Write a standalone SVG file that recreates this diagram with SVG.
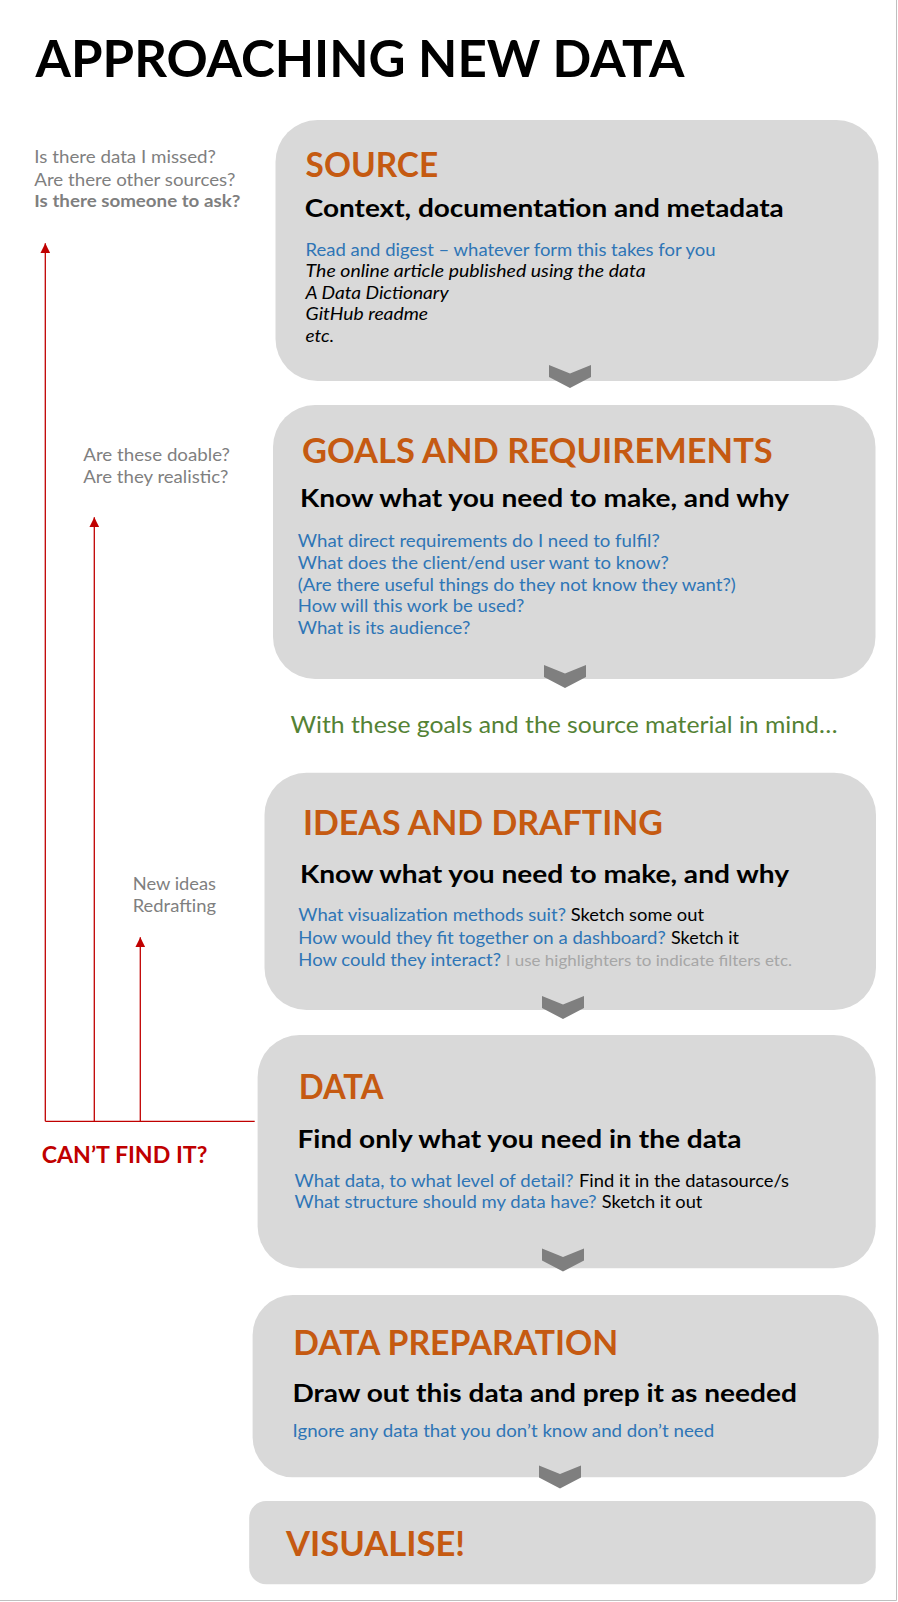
<svg xmlns="http://www.w3.org/2000/svg" width="898" height="1602" viewBox="0 0 898 1602">
<style>
text{font-family:Lato,"Open Sans","Liberation Sans",sans-serif}
.box{fill:#d9d9d9}
.h{font-weight:700;fill:#c55a11;font-size:34px}
.sub{font-weight:700;fill:#000;font-size:24px}
.b{font-size:17.5px;fill:#2e75b6}
.k{font-size:17.5px;fill:#000}
.i{font-size:17.5px;fill:#000;font-style:italic}
.q{font-size:17.5px;fill:#7f7f7f}
.lt{font-size:15px;fill:#a6a6a6}
.red{stroke:#c00000;stroke-width:1.3;fill:none}
.chev{fill:#7f7f7f}
</style>
<defs>
<marker id="ah" markerUnits="userSpaceOnUse" markerWidth="10" markerHeight="10" refX="10" refY="5" orient="auto">
<path d="M0,0 L10,5 L0,10 Z" fill="#c00000"/>
</marker>
<path id="chevron" d="M-21,0 L0,8.5 L21,0 L21,12 L0,23 L-21,12 Z"/>
</defs>
<rect x="0" y="0" width="898" height="1602" fill="#fff"/>
<path d="M896.5,0 V1600.5 H0" fill="none" stroke="#bfbfbf" stroke-width="1"/>

<text x="35.5" y="77" font-size="52" font-weight="700" fill="#000" textLength="649" lengthAdjust="spacingAndGlyphs">APPROACHING NEW DATA</text>

<g id="connectors">
<path class="red" d="M254.7,1121.3 H45.3"/>
<line class="red" x1="45.3" y1="1121.3" x2="45.3" y2="243.3" marker-end="url(#ah)"/>
<line class="red" x1="94.3" y1="1121.3" x2="94.3" y2="517.3" marker-end="url(#ah)"/>
<line class="red" x1="140.3" y1="1121.3" x2="140.3" y2="937.3" marker-end="url(#ah)"/>
</g>

<g id="notes">
<text class="q" x="34.3" y="163.3" textLength="181.7" lengthAdjust="spacingAndGlyphs">Is there data I missed?</text>
<text class="q" x="34.3" y="186" textLength="201" lengthAdjust="spacingAndGlyphs">Are there other sources?</text>
<text class="q" x="34.3" y="207.3" font-weight="700" textLength="206" lengthAdjust="spacingAndGlyphs">Is there someone to ask?</text>
<text class="q" x="83.3" y="460.7" textLength="146.7" lengthAdjust="spacingAndGlyphs">Are these doable?</text>
<text class="q" x="83.3" y="482.7" textLength="145" lengthAdjust="spacingAndGlyphs">Are they realistic?</text>
<text class="q" x="132.7" y="890" textLength="83.3" lengthAdjust="spacingAndGlyphs">New ideas</text>
<text class="q" x="132.7" y="911.7" textLength="83.3" lengthAdjust="spacingAndGlyphs">Redrafting</text>
<text x="41.7" y="1163.3" font-size="23.5" font-weight="700" fill="#c00000" textLength="165.7" lengthAdjust="spacingAndGlyphs">CAN’T FIND IT?</text>
<text x="290.5" y="733" font-size="22.5" fill="#548235" textLength="547" lengthAdjust="spacingAndGlyphs">With these goals and the source material in mind…</text>
</g>

<g id="source">
<rect class="box" x="275.5" y="120" width="603" height="261" rx="42"/>
<text class="h" x="305.6" y="177" textLength="132.6" lengthAdjust="spacingAndGlyphs">SOURCE</text>
<text class="sub" x="304.8" y="216.7" textLength="479" lengthAdjust="spacingAndGlyphs">Context, documentation and metadata</text>
<text class="b" x="305.6" y="256" textLength="410" lengthAdjust="spacingAndGlyphs">Read and digest – whatever form this takes for you</text>
<text class="i" x="305.6" y="277.3" textLength="340" lengthAdjust="spacingAndGlyphs">The online article published using the data</text>
<text class="i" x="305.6" y="299" textLength="143" lengthAdjust="spacingAndGlyphs">A Data Dictionary</text>
<text class="i" x="305.6" y="320" textLength="122.5" lengthAdjust="spacingAndGlyphs">GitHub readme</text>
<text class="i" x="305.6" y="341.7" textLength="28.5" lengthAdjust="spacingAndGlyphs">etc.</text>
<use href="#chevron" class="chev" x="570" y="365"/>
</g>

<g id="goals">
<rect class="box" x="273" y="405" width="602.5" height="274" rx="42"/>
<text class="h" x="302" y="462.7" textLength="470.7" lengthAdjust="spacingAndGlyphs">GOALS AND REQUIREMENTS</text>
<text class="sub" x="300" y="507" textLength="489" lengthAdjust="spacingAndGlyphs">Know what you need to make, and why</text>
<text class="b" x="297.8" y="546.7" textLength="362" lengthAdjust="spacingAndGlyphs">What direct requirements do I need to fulfil?</text>
<text class="b" x="297.8" y="569" textLength="371" lengthAdjust="spacingAndGlyphs">What does the client/end user want to know?</text>
<text class="b" x="297.8" y="590.7" textLength="438" lengthAdjust="spacingAndGlyphs">(Are there useful things do they not know they want?)</text>
<text class="b" x="297.8" y="611.7" textLength="226.6" lengthAdjust="spacingAndGlyphs">How will this work be used?</text>
<text class="b" x="297.8" y="634.3" textLength="172.5" lengthAdjust="spacingAndGlyphs">What is its audience?</text>
<use href="#chevron" class="chev" x="565" y="665"/>
</g>

<g id="ideas">
<rect class="box" x="264.5" y="772.7" width="611.5" height="237.3" rx="42"/>
<text class="h" x="303" y="835" textLength="360" lengthAdjust="spacingAndGlyphs">IDEAS AND DRAFTING</text>
<text class="sub" x="300" y="882.7" textLength="489" lengthAdjust="spacingAndGlyphs">Know what you need to make, and why</text>
<text class="b" x="298.3" y="921.3" textLength="267.7" lengthAdjust="spacingAndGlyphs">What visualization methods suit?</text>
<text class="k" x="570.7" y="921.3" textLength="133.3" lengthAdjust="spacingAndGlyphs">Sketch some out</text>
<text class="b" x="298.3" y="943.5" textLength="367.4" lengthAdjust="spacingAndGlyphs">How would they fit together on a dashboard?</text>
<text class="k" x="671" y="943.5" textLength="68" lengthAdjust="spacingAndGlyphs">Sketch it</text>
<text class="b" x="298.3" y="965.7" textLength="202.7" lengthAdjust="spacingAndGlyphs">How could they interact?</text>
<text class="lt" x="505.7" y="965.7" textLength="286.3" lengthAdjust="spacingAndGlyphs">I use highlighters to indicate filters etc.</text>
<use href="#chevron" class="chev" x="563" y="996"/>
</g>

<g id="data">
<rect class="box" x="257.6" y="1035" width="618.1" height="233.3" rx="42"/>
<text class="h" x="298.7" y="1099.3" textLength="84.8" lengthAdjust="spacingAndGlyphs">DATA</text>
<text class="sub" x="297.5" y="1148.3" textLength="444" lengthAdjust="spacingAndGlyphs">Find only what you need in the data</text>
<text class="b" x="294.6" y="1186.7" textLength="279" lengthAdjust="spacingAndGlyphs">What data, to what level of detail?</text>
<text class="k" x="579" y="1186.7" textLength="210" lengthAdjust="spacingAndGlyphs">Find it in the datasource/s</text>
<text class="b" x="294.6" y="1208.3" textLength="302" lengthAdjust="spacingAndGlyphs">What structure should my data have?</text>
<text class="k" x="601.7" y="1208.3" textLength="100.7" lengthAdjust="spacingAndGlyphs">Sketch it out</text>
<use href="#chevron" class="chev" x="563" y="1248.5"/>
</g>

<g id="data-preparation">
<rect class="box" x="252.6" y="1295" width="626" height="182.3" rx="40"/>
<text class="h" x="293.3" y="1355" textLength="325" lengthAdjust="spacingAndGlyphs">DATA PREPARATION</text>
<text class="sub" x="292.5" y="1402.3" textLength="504.4" lengthAdjust="spacingAndGlyphs">Draw out this data and prep it as needed</text>
<text class="b" x="292.5" y="1437.3" textLength="421.7" lengthAdjust="spacingAndGlyphs">Ignore any data that you don’t know and don’t need</text>
<use href="#chevron" class="chev" x="560" y="1465.5"/>
</g>

<g id="visualise">
<rect class="box" x="249.2" y="1501" width="626.5" height="83.3" rx="17"/>
<text class="h" x="286" y="1556" textLength="179" lengthAdjust="spacingAndGlyphs">VISUALISE!</text>
</g>
</svg>
